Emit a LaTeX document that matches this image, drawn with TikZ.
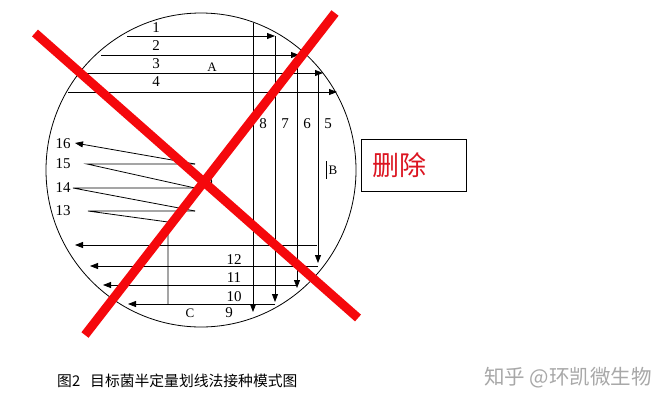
\documentclass[tikz,border=0pt]{standalone}
\usepackage{fontspec}
\setmainfont{Liberation Serif}
\newfontfamily\cjkfont{Noto Sans CJK SC}
\usepackage{xcolor}
\definecolor{crossred}{HTML}{F5080C}
\definecolor{delred}{HTML}{DC1420}
\definecolor{markgray}{HTML}{A8A8A8}
\usetikzlibrary{arrows.meta}
\tikzset{
  streak/.style={black, line width=0.8pt},
  tip/.style={-{Triangle[length=8pt,width=6pt]}},
  numlbl/.style={font=\fontsize{15}{15}\selectfont, inner sep=0pt},
  zonelbl/.style={font=\fontsize{13}{13}\selectfont, inner sep=0pt},
  crossline/.style={crossred, line width=9pt}
}

\begin{document}
\begin{tikzpicture}[x=1pt,y=-1pt]
  \useasboundingbox (0,0) rectangle (671,405);
  \fill[white] (0,0) rectangle (671,405);

  % plate
  \draw[streak] (201,170) ellipse (155pt and 157pt);

  % zone A: top streaks
  \draw[streak,tip] (127,36) -- (275,36);
  \draw[streak,tip] (101,55) -- (299,55);
  \draw[streak,tip] (85,73) -- (323,73);
  \draw[streak,tip] (68,92) -- (337,92);
  \node[numlbl] (n1) at (156,28) {1};
  \node[numlbl] (n2) at (156,46) {2};
  \node[numlbl] (n3) at (156,64) {3};
  \node[numlbl] (n4) at (156,82) {4};
  \node[zonelbl] (zA) at (212,67) {A};

  % zone B: down streaks
  \draw[streak,tip] (318,73) -- (318,263);
  \draw[streak,tip] (297,55) -- (297,288);
  \draw[streak,tip] (275,36) -- (275,302);
  \draw[streak,tip] (253,23) -- (253,312);
  \node[numlbl] (n5) at (328,124) {5};
  \node[numlbl] (n6) at (307,124) {6};
  \node[numlbl] (n7) at (285,124) {7};
  \node[numlbl] (n8) at (263,124) {8};
  \draw[streak] (326,161) -- (326,179);
  \node[zonelbl] (zB) at (333,170) {B};

  % zone C: back streaks
  \draw[streak,tip] (317,245) -- (75,245);
  \draw[streak,tip] (318,266) -- (90,266);
  \draw[streak,tip] (297,285) -- (103,285);
  \draw[streak,tip] (275,304) -- (128,304);
  \node[numlbl] (n12) at (234,260) {12};
  \node[numlbl] (n11) at (234,278) {11};
  \node[numlbl] (n10) at (234,297) {10};
  \node[numlbl] (n9) at (229,313) {9};
  \node[zonelbl] (zC) at (190,313) {C};

  % zone D: zigzag
  \draw[streak] (168,304) -- (168,222) -- (88,211) -- (195,211);
  \draw[streak] (195,211) -- (73,188) -- (195,188);
  \draw[streak] (195,188) -- (87,164) -- (195,164);
  \draw[streak,tip] (195,164) -- (75,143);
  \node[numlbl] (n13) at (63,211) {13};
  \node[numlbl] (n14) at (63,188) {14};
  \node[numlbl] (n15) at (63,164) {15};
  \node[numlbl] (n16) at (63,144) {16};
  \node[zonelbl] (zD) at (208,182) {D};

  % crossed out
  \draw[crossline] (35,33) -- (358,318);
  \draw[crossline] (335,13) -- (85,335);
  \node[draw, line width=0.8pt, minimum width=105pt, minimum height=52pt,
        text width=83pt, align=left, inner xsep=11pt, text=delred,
        font=\cjkfont\fontsize{27}{27}\selectfont] (del) at (413.5,165) {删除};

  % caption
  \node[anchor=west, inner sep=0pt, font=\cjkfont\fontsize{14.8}{14.8}\selectfont] (cap) at (57,381)
    {图2\hspace{10pt}目标菌半定量划线法接种模式图};
  \node[anchor=east, inner sep=0pt, text=markgray, font=\cjkfont\fontsize{20.5}{20.5}\selectfont] (mark) at (652,378)
    {知乎 @环凯微生物};
\end{tikzpicture}
\end{document}
